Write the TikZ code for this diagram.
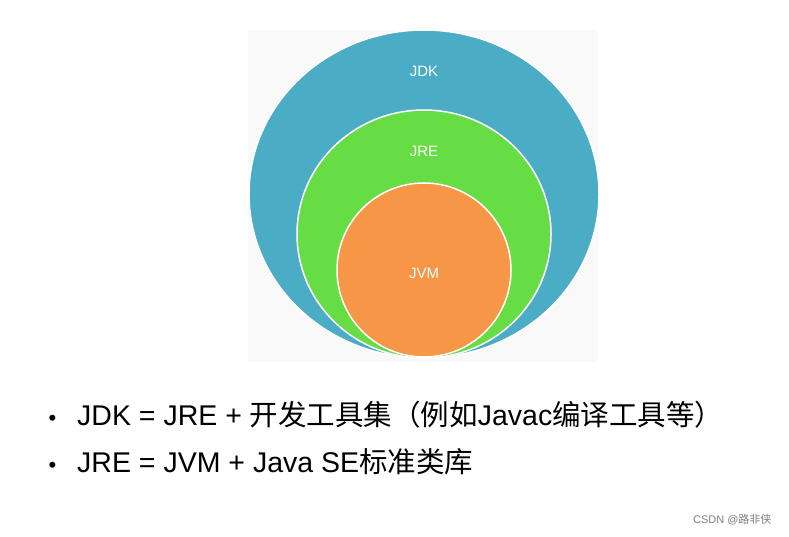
\documentclass[tikz,border=0pt]{standalone}
\usepackage{fontspec}
\setmainfont{Liberation Sans}
\newfontfamily\cjk{Noto Sans CJK SC}
\definecolor{jdk}{HTML}{4BACC6}
\definecolor{jre}{HTML}{66DD44}
\definecolor{jvm}{HTML}{F79646}
\begin{document}
\begin{tikzpicture}[x=1pt,y=-1pt,
  lbl/.style={text=white,font=\fontsize{15}{17}\selectfont},
  bul/.style={anchor=west,font=\fontsize{28.5}{32}\selectfont},
  ring/.style={draw=white,line width=1.5pt}]
\useasboundingbox (0,0) rectangle (789,537);
\fill[white] (0,0) rectangle (789,537);
\fill[gray!5] (248,30) rectangle (598,362);
\fill[ring,fill=jdk] (424,194) ellipse [x radius=175,y radius=164];
\fill[ring,fill=jre] (424,234) ellipse [x radius=127,y radius=124];
\fill[ring,fill=jvm] (424,270) ellipse [x radius=87,y radius=87];
\node[lbl] (jdkl) at (424,71) {JDK};
\node[lbl] (jrel) at (424,151) {JRE};
\node[lbl] (jvml) at (424,273) {JVM};
\node[bul] (b1) at (45,415) {\fontsize{22}{26}\selectfont•\hspace{21pt}\fontsize{28.5}{32}\selectfont JDK = JRE + {\cjk 开发工具集（例如}Javac{\cjk 编译工具等）}};
\node[bul] (b2) at (45,462) {\fontsize{22}{26}\selectfont•\hspace{21pt}\fontsize{28.5}{32}\selectfont JRE = JVM + Java SE{\cjk 标准类库}};
\node[anchor=east,text=gray,font=\fontsize{11}{13}\selectfont] (wm) at (775,520) {CSDN @{\cjk 路非侠}};
\end{tikzpicture}
\end{document}
